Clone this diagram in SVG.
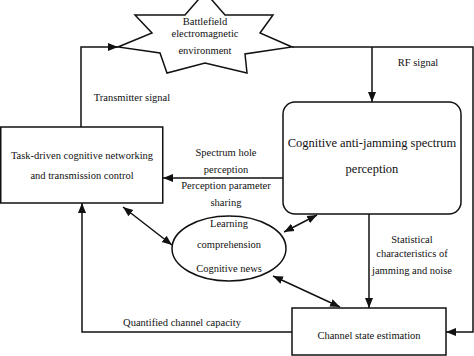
<svg xmlns="http://www.w3.org/2000/svg" width="474" height="356" viewBox="0 0 474 356">
<style>
.t{font-family:"Liberation Serif","Times New Roman",serif;font-size:10.5px;fill:#111;text-anchor:middle}
.big{font-size:12.5px}
.s{fill:none;stroke:#111;stroke-width:1.5}
.n{fill:#fff;stroke:#111;stroke-width:1.5}
</style>
<defs>
<marker id="a" viewBox="0 0 10 10" refX="10" refY="5" markerWidth="10" markerHeight="10" markerUnits="userSpaceOnUse" orient="auto-start-reverse"><path d="M0,1 L10,5 L0,9 z" fill="#111"/></marker>
</defs>
<rect width="474" height="356" fill="#fff"/>
<g id="connectors">
<path class="s" d="M81,127 V47 H118" marker-end="url(#a)"/>
<path class="s" d="M292,47 H473 V332 H446" marker-end="url(#a)"/>
<path class="s" d="M372,47 V102" marker-end="url(#a)"/>
<path class="s" d="M283,178 H163" marker-end="url(#a)"/>
<path class="s" d="M369,214 V308" marker-end="url(#a)"/>
<path class="s" d="M292,332 H82 V203" marker-end="url(#a)"/>
<path class="s" d="M123,207 L172,245" marker-start="url(#a)" marker-end="url(#a)"/>
<path class="s" d="M284,232 L317,215" marker-start="url(#a)" marker-end="url(#a)"/>
<path class="s" d="M273,276 L340,307" marker-start="url(#a)" marker-end="url(#a)"/>
<text class="t" x="132" y="101">Transmitter signal</text>
<text class="t" x="418" y="66">RF signal</text>
<text class="t" x="226" y="156">Spectrum hole</text>
<text class="t" x="226" y="173">perception</text>
<text class="t" x="226" y="189">Perception parameter</text>
<text class="t" x="226" y="206">sharing</text>
<text class="t" x="412" y="243">Statistical</text>
<text class="t" x="412" y="257">characteristics of</text>
<text class="t" x="412" y="274">jamming and noise</text>
<text class="t" x="182" y="326">Quantified channel capacity</text>
</g>
<g id="env">
<polygon class="n" points="205,-8 225,15 273,15 260,33 292,47 245,54 247,73 205,63 167,73 160,53 118,47 152,33 135,15 185,15"/>
<text class="t" x="205" y="25">Battlefield</text>
<text class="t" x="205" y="37">electromagnetic</text>
<text class="t" x="205" y="54">environment</text>
</g>
<g id="control">
<rect class="n" x="0.75" y="127" width="162" height="76"/>
<text class="t" x="82" y="159">Task-driven cognitive networking</text>
<text class="t" x="82" y="179">and transmission control</text>
</g>
<g id="perception">
<rect class="n" x="283" y="102" width="178" height="112" rx="12"/>
<text class="t big" x="372" y="147">Cognitive anti-jamming spectrum</text>
<text class="t big" x="372" y="173">perception</text>
</g>
<g id="learning">
<ellipse class="n" cx="229" cy="248.5" rx="57" ry="32.5"/>
<text class="t" x="229" y="227">Learning</text>
<text class="t" x="229" y="248">comprehension</text>
<text class="t" x="229" y="272">Cognitive news</text>
</g>
<g id="channel">
<rect class="n" x="292" y="308" width="154" height="47"/>
<text class="t" x="369" y="339">Channel state estimation</text>
</g>
</svg>
